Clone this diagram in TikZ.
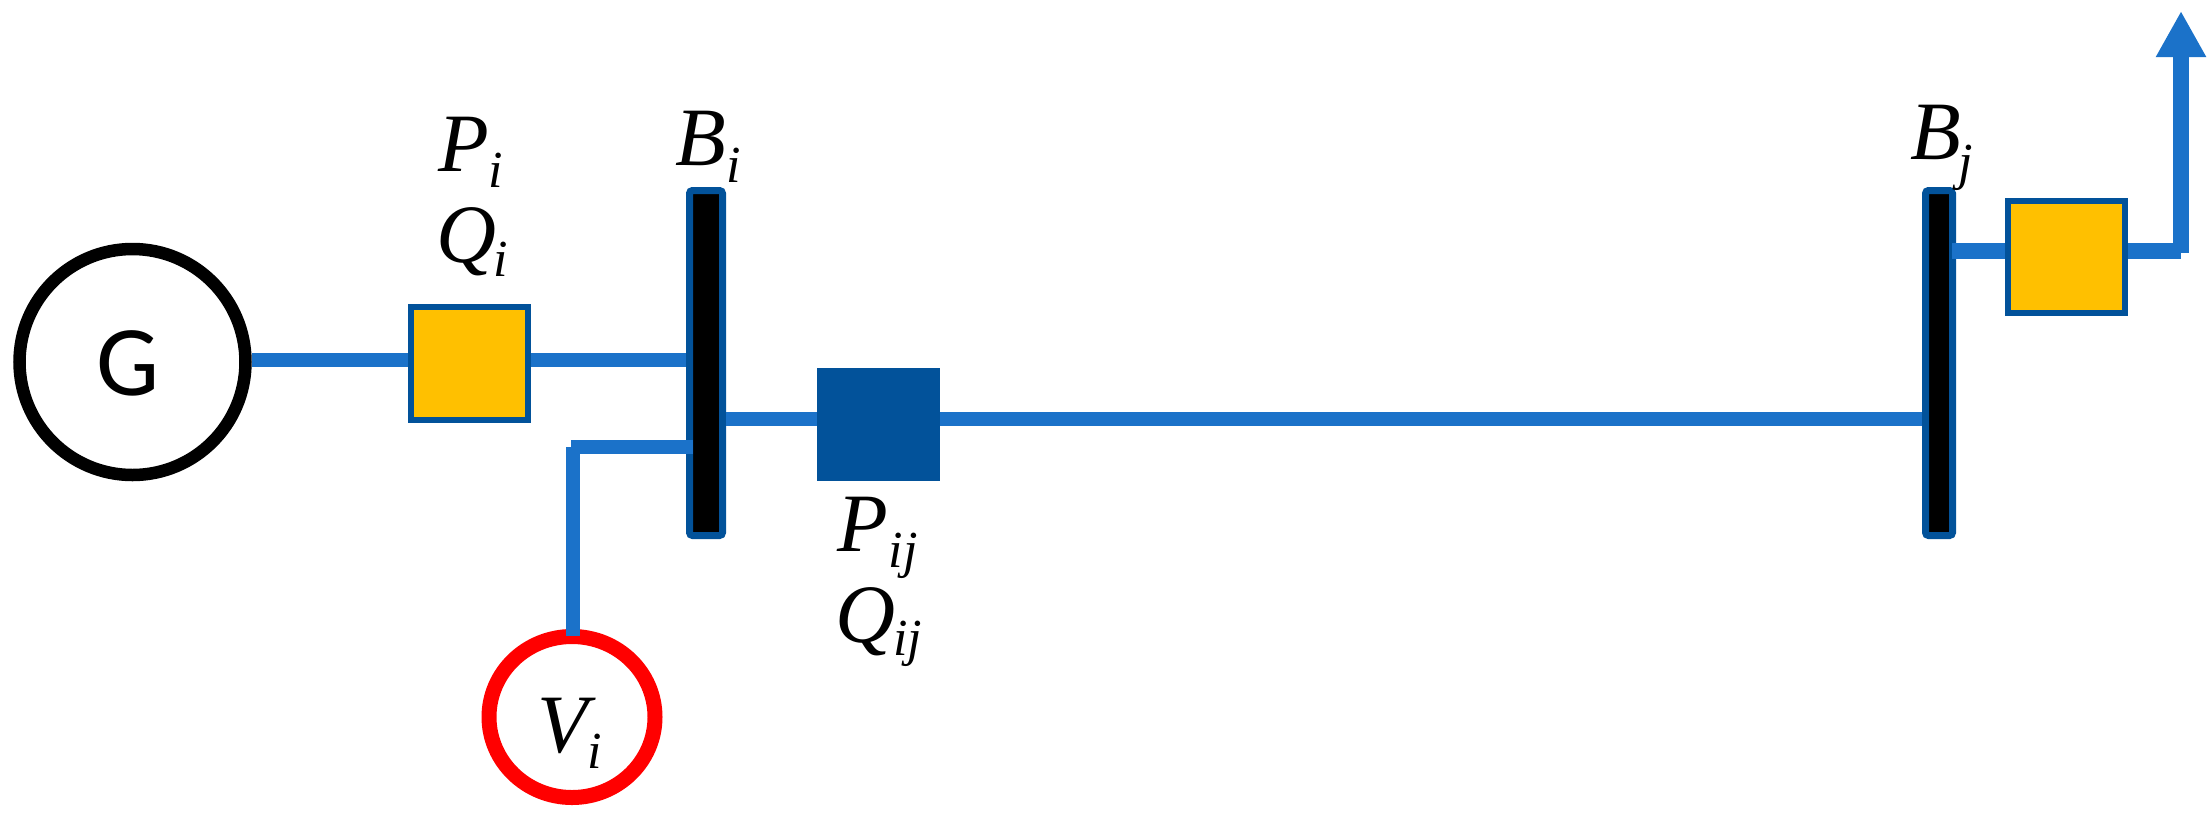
\documentclass[tikz,border=0pt]{standalone}
\usepackage{fontspec}
\setmainfont{Liberation Serif}
\newfontfamily\gfont{Carlito}
\usetikzlibrary{arrows.meta,shapes.geometric}
\definecolor{wireblue}{HTML}{1B72C9}
\definecolor{darkblue}{HTML}{02529A}
\definecolor{gold}{HTML}{FFC000}
\newcommand{\biglbl}[4]{\fontsize{83}{83}\selectfont\textit{#1}\kern#3pt\raisebox{#4pt}{\fontsize{52}{52}\selectfont\textit{#2}}}
\tikzset{
  wire/.style={draw=wireblue,line width=14pt},
  fatwire/.style={draw=wireblue,line width=16pt},
  meter/.style={rectangle,draw=darkblue,fill=gold,line width=6pt,minimum width=117pt,minimum height=113pt,inner sep=0pt},
  busbar/.style={rectangle,draw=darkblue,fill=black,line width=7pt,rounded corners=3pt,minimum width=#1,minimum height=345pt,inner sep=0pt},
  mark box/.style={rectangle,fill=darkblue,minimum width=123pt,minimum height=113pt,inner sep=0pt},
  ring/.style={circle,draw=black,fill=white,line width=12.5pt,minimum size=226pt,inner sep=0pt},
  redring/.style={ellipse,draw=red,fill=white,line width=15pt,minimum width=166pt,minimum height=161pt,inner sep=0pt},
  lbl/.style={anchor=base west,inner sep=0pt,text=black}
}
\begin{document}
\begin{tikzpicture}[x=1pt,y=-1pt]
\useasboundingbox (0,0) rectangle (2210,815);
% nodes
\node[ring] (gen) at (132.5,362) {};
\node[meter] (m1) at (469.5,363) {};
\node[busbar=33pt] (bi) at (706,363) {};
\node[mark box] (pq) at (878.5,424.5) {};
\node[busbar=27pt] (bj) at (1939,363) {};
\node[meter,minimum height=112pt] (m2) at (2066.5,256.5) {};
\node[redring] (vc) at (572,717) {};
% texts
\node[anchor=base,inner sep=0pt] (gt) at (128,395) {\gfont\fontsize{100}{100}\selectfont G};
\node[lbl] (pi) at (438,171) {\biglbl{P}{i}{0}{-16}};
\node[lbl] (qi) at (436.5,262) {\biglbl{Q}{i}{-3}{-14}};
\node[lbl] (bil) at (675,165) {\biglbl{B}{i}{1}{-17}};
\node[lbl] (vi) at (537,752) {\biglbl{V}{i}{-8}{-16}};
\node[lbl] (pij) at (837,551) {\biglbl{P}{ij}{1}{-16}};
\node[lbl] (qij) at (835,642) {\biglbl{Q}{ij}{-2}{-13}};
\node[lbl] (bjl) at (1910,159) {\biglbl{B}{j}{-2}{-20}};
% helper coordinates
\coordinate (rowa) at (0,360);
\coordinate (rowb) at (0,419);
\coordinate (rowc) at (0,251);
\coordinate (vh) at (571,447);
\coordinate (vb) at (693,447);
\coordinate (vt) at (572.5,447);
\coordinate (vd) at (572.5,636);
\coordinate (bjin) at (1952,251);
\coordinate (loadh) at (2181,251);
\coordinate (loadv) at (2181,253);
\coordinate (tip) at (2181,11);
% connectors
\draw[wire] (gen.east |- rowa) -- (m1.west |- rowa);
\draw[wire] (m1.east |- rowa) -- (bi.west |- rowa);
\draw[wire] (bi.east |- rowb) -- (pq.west |- rowb);
\draw[wire] (pq.east |- rowb) -- (bj.west |- rowb);
\draw[wire] (vh) -- (vb);
\draw[wire] (vt) -- (vd);
\draw[fatwire] (bjin) -- (m2.west |- rowc);
\draw[fatwire] (m2.east |- rowc) -- (loadh);
\draw[fatwire,-{Triangle[length=46pt,width=47pt]}] (loadv) -- (tip);
\end{tikzpicture}
\end{document}
